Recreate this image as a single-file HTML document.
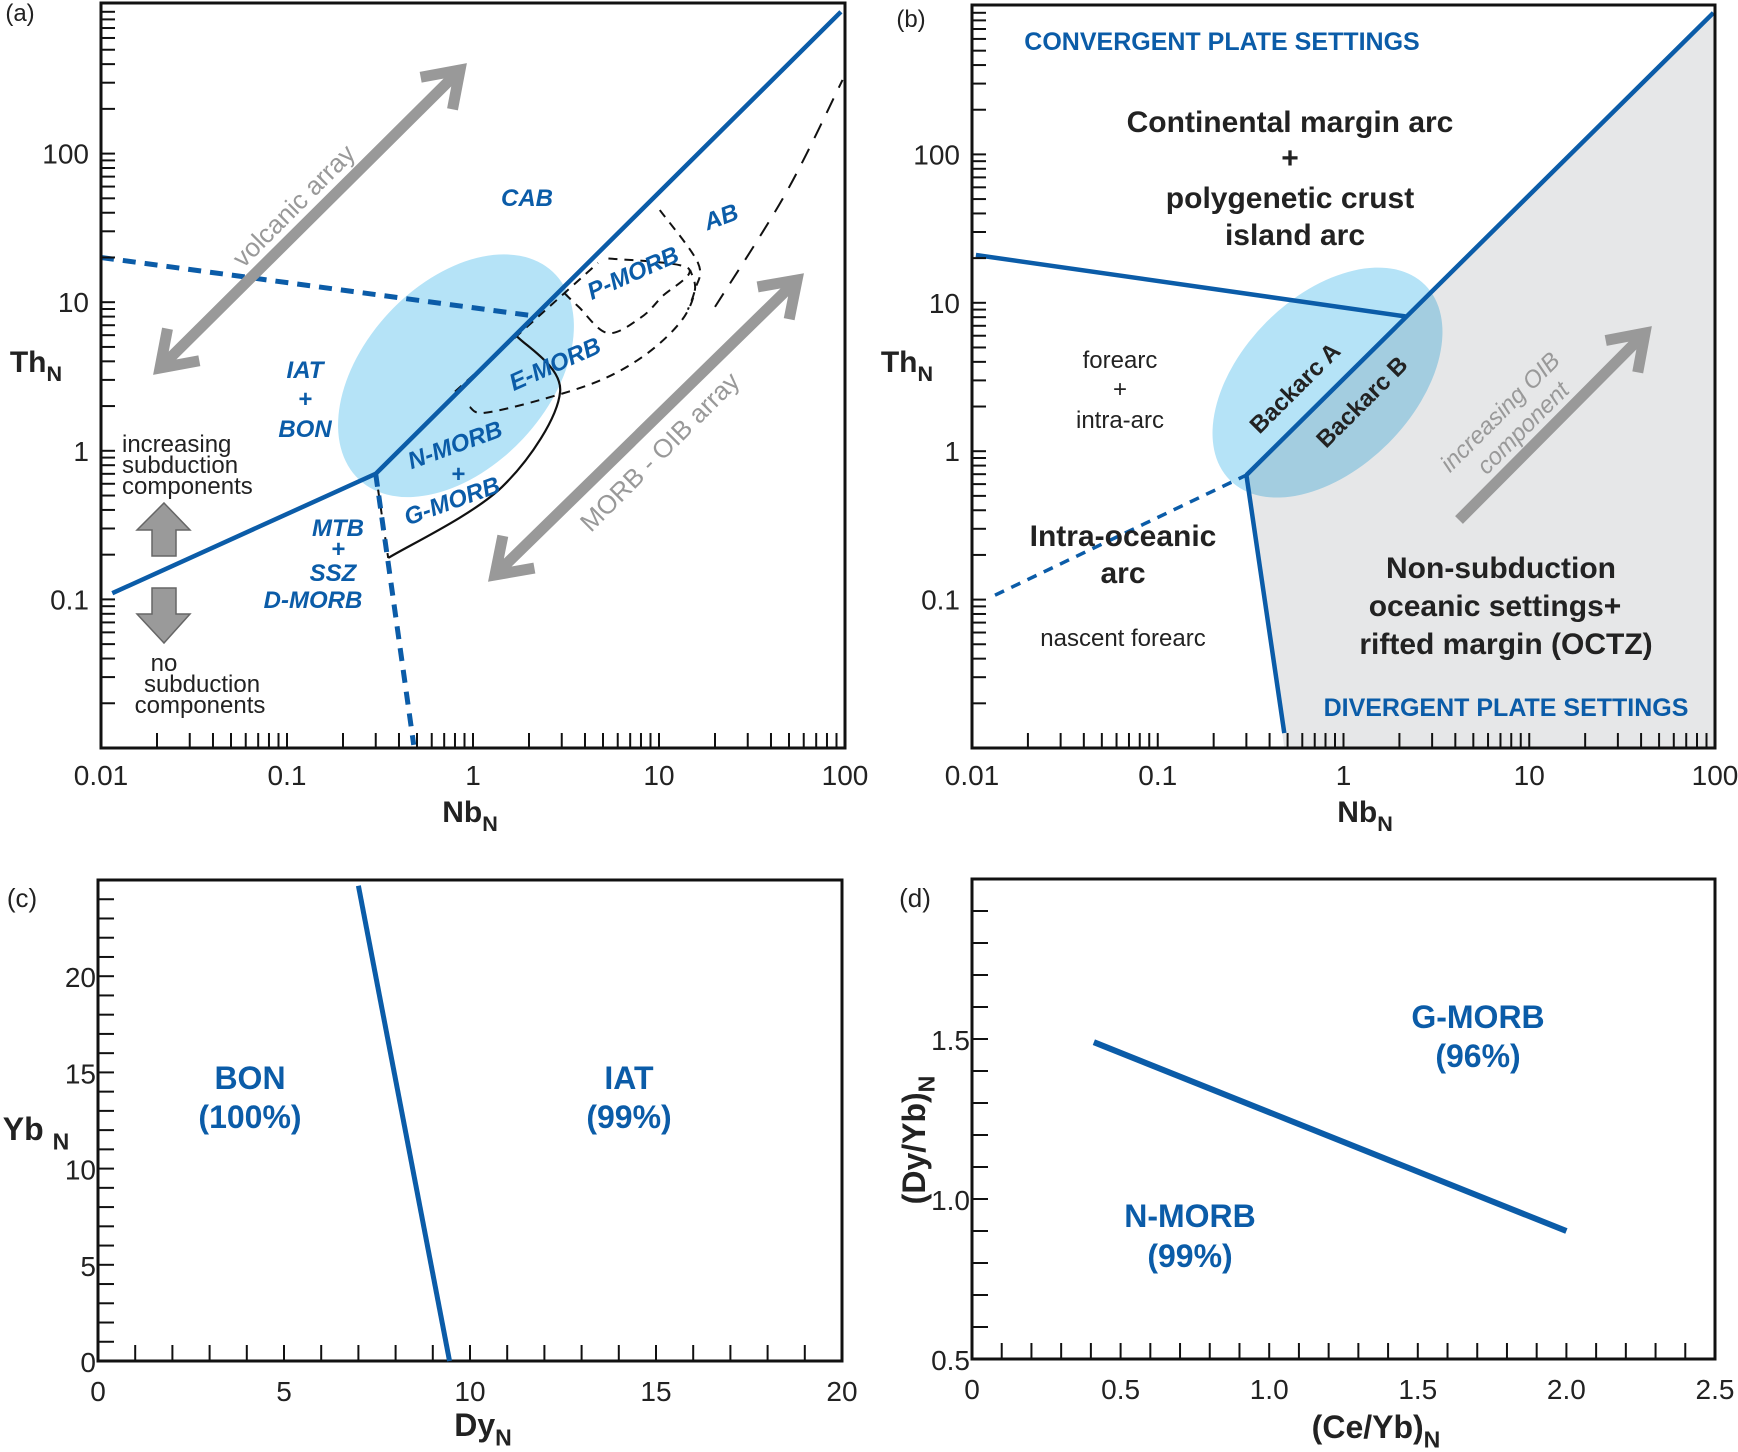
<!DOCTYPE html>
<html><head><meta charset="utf-8">
<style>
html,body{margin:0;padding:0;background:#fff;}
svg{display:block;font-family:"Liberation Sans",Arial,sans-serif;}
.bl{fill:#0b5ca8;font-weight:bold;}
.it{font-style:italic;}
.tk{font-size:28px;fill:#222;}
</style></head>
<body>
<svg id="fig" width="1738" height="1452" viewBox="0 0 1738 1452" xmlns="http://www.w3.org/2000/svg">
<g id="pa"></g>
<g id="pb"></g>
<g id="pc"></g>
<g id="pd"></g>
</svg>
<script>
// ---------- data ----------
const aMainLine = [[0.0115,0.11],[0.3,0.7],[95,900]];
const aDashUpper = [[0.01,20],[2.1,8.1]];
const aDashLower = [[0.3,0.7],[0.48,0.0105]];
const aNmorb = [[0.35,0.19],[1.43,0.57],[2.94,2.5],[1.7,6.0]];
const aNmorbDash = [[0.3,0.7],[0.35,0.19]];
const aEmorb = [[0.96,1.97],[1.15,1.8],[2.3,2.2],[4.9,3.0],[8.7,4.55],[13.3,7.6],[15.6,12.1],[14.7,16.5]];
const aAlongLine = [[0.8,2.5],[4.7,18.4]];
const aPmorb = [[3.1,11.5],[3.7,9.3],[5.3,6.2],[8.0,7.9],[10.3,10.8],[14.3,17.0],[5.1,19.8]];
const aAB = [[10.1,41.7],[16.2,18.4],[15.6,12.1],[14.3,8.9]];
const aFar = [[20,9.3],[48,54],[97,313]];
const aEllipse = [0.81,3.2];
const bMainLine = [[0.3,0.69],[98,900]];
const bSolid = [[0.0105,21],[2.15,8.1]];
const bDash = [[0.0133,0.107],[0.3,0.69]];
const bVert = [[0.3,0.69],[0.48,0.0126]];
const bEllipse = [0.82,2.9];
const cLine = [[7.0,24.7],[9.45,0]];
const cTicks = [0,5,10,15,20];
const dLine = [[0.41,1.49],[2.0,0.9]];
const dXTicks = ["0","0.5","1.0","1.5","2.0","2.5"];
const dYTicks = ["0.5","1.0","1.5"];
const logTickLabels = ["0.01","0.1","1","10","100"];

const NS="http://www.w3.org/2000/svg";
const BLUE="#0b5ca8";
function el(parent,tag,attrs,text){const e=document.createElementNS(NS,tag);for(const k in attrs)e.setAttribute(k,attrs[k]);if(text!==undefined)e.textContent=text;parent.appendChild(e);return e;}
function logAx(x0,x1,y0,y1){return {x:v=>x0+(Math.log10(v)+2)/4*(x1-x0), y:v=>y1-(Math.log10(v)+2)/5*(y1-y0)};}
function pathOf(pts,ax){return pts.map((p,i)=>(i?'L':'M')+ax.x(p[0]).toFixed(1)+','+ax.y(p[1]).toFixed(1)).join(' ');}
function curveOf(pts,ax){
  const P=pts.map(p=>[ax.x(p[0]),ax.y(p[1])]);let d='M'+P[0][0]+','+P[0][1];
  for(let i=0;i<P.length-1;i++){const p0=P[i-1]||P[i],p1=P[i],p2=P[i+1],p3=P[i+2]||p2;
    d+=' C'+(p1[0]+(p2[0]-p0[0])/6)+','+(p1[1]+(p2[1]-p0[1])/6)+' '+(p2[0]-(p3[0]-p1[0])/6)+','+(p2[1]-(p3[1]-p1[1])/6)+' '+p2[0]+','+p2[1];}
  return d;}
function logFrame(g,ax,x0,x1,y0,y1){
  const t=el(g,'g',{});
  
  
  for(let e=-2;e<=2;e++)for(let m=1;m<=9;m++){const v=m*Math.pow(10,e);if(v>100.01)continue;const X=ax.x(v);
    el(t,'line',{x1:X,x2:X,y1:y1,y2:y1-15,stroke:'#111','stroke-width':2});}
  for(let e=-2;e<=2;e++)for(let m=1;m<=9;m++){const v=m*Math.pow(10,e);const Y=ax.y(v);if(Y<y0)continue;
    el(t,'line',{x1:x0,x2:x0+14,y1:Y,y2:Y,stroke:'#111','stroke-width':2});}
  el(g,'rect',{x:x0,y:y0,width:x1-x0,height:y1-y0,fill:'none',stroke:'#111','stroke-width':3});
  logTickLabels.forEach((s,i)=>{const v=Math.pow(10,i-2);
    const a=el(g,'text',{x:ax.x(v),y:y1+37,'text-anchor':'middle',class:'tk'},s);
    
    
    if(i>0){const b=el(g,'text',{x:x0-12,y:ax.y(v)+10,'text-anchor':'end',class:'tk'},s);
      
      }
  });
}
function txt(g,x,y,s,opts,name){const a=Object.assign({x:x,y:y,'text-anchor':'middle'},opts||{});const t=el(g,'text',a,s);
  
  return t;}
function sub(g,x,y,main,subs,size,name,extra){const t=el(g,'text',Object.assign({x:x,y:y,'text-anchor':'middle','font-size':size,'font-weight':'bold',fill:'#222'},extra||{}));
  
  
  el(t,'tspan',{},main);el(t,'tspan',{'font-size':size*0.72,dy:size*0.3},subs);return t;}
function head(xT,yT,xF,yF){const a=Math.atan2(yF-yT,xF-xT),L=40,s=0.6;
  return `M${xT+L*Math.cos(a+s)},${yT+L*Math.sin(a+s)} L${xT},${yT} L${xT+L*Math.cos(a-s)},${yT+L*Math.sin(a-s)}`;}
function arrow(g,xA,yA,xB,yB,both,name){
  let d=`M${xA},${yA} L${xB},${yB} `+head(xB,yB,xA,yA);
  if(both)d+=' '+head(xA,yA,xB,yB);
  const p=el(g,'path',{d:d,stroke:'#999','stroke-width':11,fill:'none','stroke-linejoin':'miter','stroke-miterlimit':10});
  
  return p;}

// ---------- panel a ----------
(function(){
const g=document.getElementById('pa');
const x0=101,x1=845,y0=3,y1=748;const ax=logAx(x0,x1,y0+2,y1);
const cx=ax.x(aEllipse[0]),cy=ax.y(aEllipse[1]);
const ce=el(g,'ellipse',{cx:cx,cy:cy,rx:142,ry:92,fill:'#b5e3f7',transform:`rotate(-47 ${cx} ${cy})`});


const dashes=[[aEmorb,'emorb-boundary'],[aPmorb,'pmorb-boundary'],[aAB,'ab-boundary'],[aAlongLine,'line-boundary'],[aNmorbDash,'nmorb-dash']];
dashes.forEach(d=>{const p=el(g,'path',{d:curveOf(d[0],ax),fill:'none',stroke:'#111','stroke-width':2,'stroke-dasharray':'9 7'});
  
  });
const far=el(g,'path',{d:curveOf(aFar,ax),fill:'none',stroke:'#111','stroke-width':2,'stroke-dasharray':'16 12'});


const nm=el(g,'path',{d:curveOf(aNmorb,ax),fill:'none',stroke:'#111','stroke-width':2.2});


const du=el(g,'path',{d:pathOf(aDashUpper,ax),fill:'none',stroke:BLUE,'stroke-width':5,'stroke-dasharray':'13 9'});


const dl=el(g,'path',{d:pathOf(aDashLower,ax),fill:'none',stroke:BLUE,'stroke-width':5,'stroke-dasharray':'13 9'});


const ml=el(g,'path',{d:pathOf(aMainLine,ax),fill:'none',stroke:BLUE,'stroke-width':4.5});


logFrame(g,ax,x0,x1,y0,y1);
arrow(g,160,368,460,70,true,'volcanic-array-arrow');
arrow(g,495,575,797,280,true,'morb-oib-arrow');
txt(g,300,212,'volcanic array',{'font-size':26,fill:'#999',transform:'rotate(-45 300 212)'},'volcanic-array-label');
txt(g,666,458,'MORB - OIB array',{'font-size':26,fill:'#999',transform:'rotate(-45 666 458)'},'morb-oib-label');
const up=el(g,'path',{d:'M164,503 L190,530 L176,530 L176,556 L152,556 L152,530 L137,530 Z',fill:'#9a9a9a',stroke:'#666','stroke-width':1.5});


const dn=el(g,'path',{d:'M152,588 L176,588 L176,614 L190,614 L164,643 L137,614 L152,614 Z',fill:'#9a9a9a',stroke:'#666','stroke-width':1.5});


[['increasing',122,452],['subduction',122,473],['components',122,494]].forEach(a=>txt(g,a[1],a[2],a[0],{'text-anchor':'start','font-size':24,fill:'#222'},'increasing-subduction-note'));
[['no',164,671],['subduction',202,692],['components',200,713]].forEach(a=>txt(g,a[1],a[2],a[0],{'font-size':24,fill:'#222'},'no-subduction-note'));
const B={'font-size':24,class:'bl it'};
txt(g,527,206,'CAB',B,'cab-label');
txt(g,305,378,'IAT',B,'iat-label');txt(g,305,407,'+',B,'plus');txt(g,305,437,'BON',B,'bon-label');
txt(g,633,281,'P-MORB',Object.assign({},B,{transform:'rotate(-24 633 273)'}),'pmorb-label');
txt(g,721,225,'AB',Object.assign({},B,{transform:'rotate(-20 721 217)'}),'ab-label');
txt(g,555,372,'E-MORB',Object.assign({},B,{transform:'rotate(-24 555 364)'}),'emorb-label');
txt(g,455,453,'N-MORB',Object.assign({},B,{transform:'rotate(-20 455 445)'}),'nmorb-label');
txt(g,458,482,'+',B,'plus');
txt(g,452,509,'G-MORB',Object.assign({},B,{transform:'rotate(-20 452 501)'}),'gmorb-label');
txt(g,338,536,'MTB',B,'mtb-label');txt(g,338,557,'+',B,'plus');txt(g,333,581,'SSZ',B,'ssz-label');txt(g,313,608,'D-MORB',B,'dmorb-label');
txt(g,20,21,'(a)',{'font-size':24,fill:'#222'},'panel-a-tag');
sub(g,470,822,'Nb','N',30,'x-axis-title');
sub(g,36,372,'Th','N',30,'y-axis-title');
})();

// ---------- panel b ----------
(function(){
const g=document.getElementById('pb');
const x0=972,x1=1715,y0=5,y1=748;const ax=logAx(x0,x1,y0+1,y1);
const ex=ax.x(bEllipse[0]),ey=ax.y(bEllipse[1]);
const ce=el(g,'ellipse',{cx:ex,cy:ey,rx:138,ry:86,fill:'#b5e3f7',transform:`rotate(-45 ${ex} ${ey})`});


const k=bMainLine[0],top=bMainLine[1],bot=bVert[1];
const poly=[[ax.x(k[0]),ax.y(k[1])],[ax.x(top[0]),ax.y(top[1])],[x1,y0],[x1,y1],[ax.x(bot[0]),y1]];
const gr=el(g,'polygon',{points:poly.map(p=>p.join(',')).join(' '),fill:'#e6e7e8',style:'mix-blend-mode:multiply'});


const s1=el(g,'path',{d:pathOf(bSolid,ax),fill:'none',stroke:BLUE,'stroke-width':4.5});


const s2=el(g,'path',{d:pathOf(bDash,ax),fill:'none',stroke:BLUE,'stroke-width':3.5,'stroke-dasharray':'10 8'});


const s3=el(g,'path',{d:pathOf(bMainLine,ax),fill:'none',stroke:BLUE,'stroke-width':4.5});


const s4=el(g,'path',{d:pathOf(bVert,ax),fill:'none',stroke:BLUE,'stroke-width':4.5});


logFrame(g,ax,x0,x1,y0,y1);
arrow(g,1459,520,1645,333,false,'oib-arrow');
txt(g,1500,420,'increasing OIB',{'font-size':24,fill:'#999',class:'it',transform:'rotate(-45 1500 412)'},'oib-label');
txt(g,1523,436,'component',{'font-size':24,fill:'#999',class:'it',transform:'rotate(-45 1523 428)'},'oib-label');
const BB={'font-size':25,class:'bl'};
txt(g,1222,50,'CONVERGENT PLATE SETTINGS',BB,'convergent-label');
txt(g,1506,716,'DIVERGENT PLATE SETTINGS',BB,'divergent-label');
const K={'font-size':30,'font-weight':'bold',fill:'#222'};
txt(g,1290,132,'Continental margin arc',K,'continental-arc-label');
txt(g,1290,168,'+',K,'plus');
txt(g,1290,208,'polygenetic crust',K,'polygenetic-label');
txt(g,1295,245,'island arc',K,'island-arc-label');
const R={'font-size':24,fill:'#222'};
txt(g,1120,368,'forearc',R,'forearc-label');txt(g,1120,397,'+',R,'plus');txt(g,1120,428,'intra-arc',R,'intra-arc-label');
txt(g,1123,546,'Intra-oceanic',K,'intra-oceanic-label');txt(g,1123,583,'arc',K,'arc-label');
txt(g,1123,646,'nascent forearc',R,'nascent-forearc-label');
txt(g,1501,578,'Non-subduction',K,'non-subduction-label');
txt(g,1495,616,'oceanic settings+',K,'oceanic-settings-label');
txt(g,1506,654,'rifted margin (OCTZ)',K,'rifted-margin-label');
const KB={'font-size':24,'font-weight':'bold',fill:'#222'};
txt(g,1295,396,'Backarc A',Object.assign({},KB,{transform:'rotate(-45 1295 388)'}),'backarc-a-label');
txt(g,1362,410,'Backarc B',Object.assign({},KB,{transform:'rotate(-45 1362 402)'}),'backarc-b-label');
txt(g,911,27,'(b)',{'font-size':24,fill:'#222'},'panel-b-tag');
sub(g,1365,822,'Nb','N',30,'x-axis-title');
sub(g,907,372,'Th','N',30,'y-axis-title');
})();

// ---------- panel c ----------
(function(){
const g=document.getElementById('pc');
const x0=98,x1=842,y0=880,y1=1361;
const X=v=>x0+v/20*(x1-x0),Y=v=>y1-v/25*(y1-y0);
for(let i=1;i<20;i++)el(g,'line',{x1:X(i),x2:X(i),y1:y1,y2:y1-16,stroke:'#111','stroke-width':2});
for(let i=1;i<25;i++)el(g,'line',{x1:x0,x2:x0+16,y1:Y(i),y2:Y(i),stroke:'#111','stroke-width':2});
el(g,'rect',{x:x0,y:y0,width:x1-x0,height:y1-y0,fill:'none',stroke:'#111','stroke-width':3});
cTicks.forEach(v=>{txt(g,X(v),y1+40,String(v),{class:'tk','font-size':32},'x-tick-label');
  txt(g,x0-2,Y(v)+11,String(v),{'text-anchor':'end',class:'tk','font-size':32},'y-tick-label');});
const l=el(g,'path',{d:cLine.map((p,i)=>(i?'L':'M')+X(p[0])+','+Y(p[1])).join(' '),stroke:BLUE,'stroke-width':5,fill:'none'});


const B={'font-size':32,class:'bl'};
txt(g,250,1089,'BON',B,'bon-label');txt(g,250,1128,'(100%)',B,'bon-percent');
txt(g,629,1089,'IAT',B,'iat-label');txt(g,629,1128,'(99%)',B,'iat-percent');
txt(g,22,907,'(c)',{'font-size':26,fill:'#222'},'panel-c-tag');
sub(g,483,1436,'Dy','N',32,'x-axis-title');
sub(g,36,1140,'Yb ','N',32,'y-axis-title');
})();

// ---------- panel d ----------
(function(){
const g=document.getElementById('pd');
const x0=972,x1=1715,y0=879,y1=1359;
const X=v=>x0+v/2.5*(x1-x0),Y=v=>y1-(v-0.5)/1.5*(y1-y0);
for(let i=1;i<25;i++)el(g,'line',{x1:X(i/10),x2:X(i/10),y1:y1,y2:y1-16,stroke:'#111','stroke-width':2});
for(let i=1;i<15;i++)el(g,'line',{x1:x0,x2:x0+16,y1:Y(0.5+i/10),y2:Y(0.5+i/10),stroke:'#111','stroke-width':2});
el(g,'rect',{x:x0,y:y0,width:x1-x0,height:y1-y0,fill:'none',stroke:'#111','stroke-width':3});
dXTicks.forEach(s=>txt(g,X(parseFloat(s)),y1+40,s,{class:'tk','font-size':32},'x-tick-label'));
dYTicks.forEach(s=>txt(g,x0-2,Y(parseFloat(s))+11,s,{'text-anchor':'end',class:'tk','font-size':32},'y-tick-label'));
const l=el(g,'path',{d:dLine.map((p,i)=>(i?'L':'M')+X(p[0])+','+Y(p[1])).join(' '),stroke:BLUE,'stroke-width':6,fill:'none'});


const B={'font-size':32,class:'bl'};
txt(g,1478,1028,'G-MORB',B,'gmorb-label');txt(g,1478,1067,'(96%)',B,'gmorb-percent');
txt(g,1190,1227,'N-MORB',B,'nmorb-label');txt(g,1190,1267,'(99%)',B,'nmorb-percent');
txt(g,915,907,'(d)',{'font-size':26,fill:'#222'},'panel-d-tag');
sub(g,1376,1438,'(Ce/Yb)','N',32,'x-axis-title');
sub(g,0,0,'(Dy/Yb)','N',32,'y-axis-title',{transform:'translate(925 1140) rotate(-90)'});
})();
</script>
</body></html>
